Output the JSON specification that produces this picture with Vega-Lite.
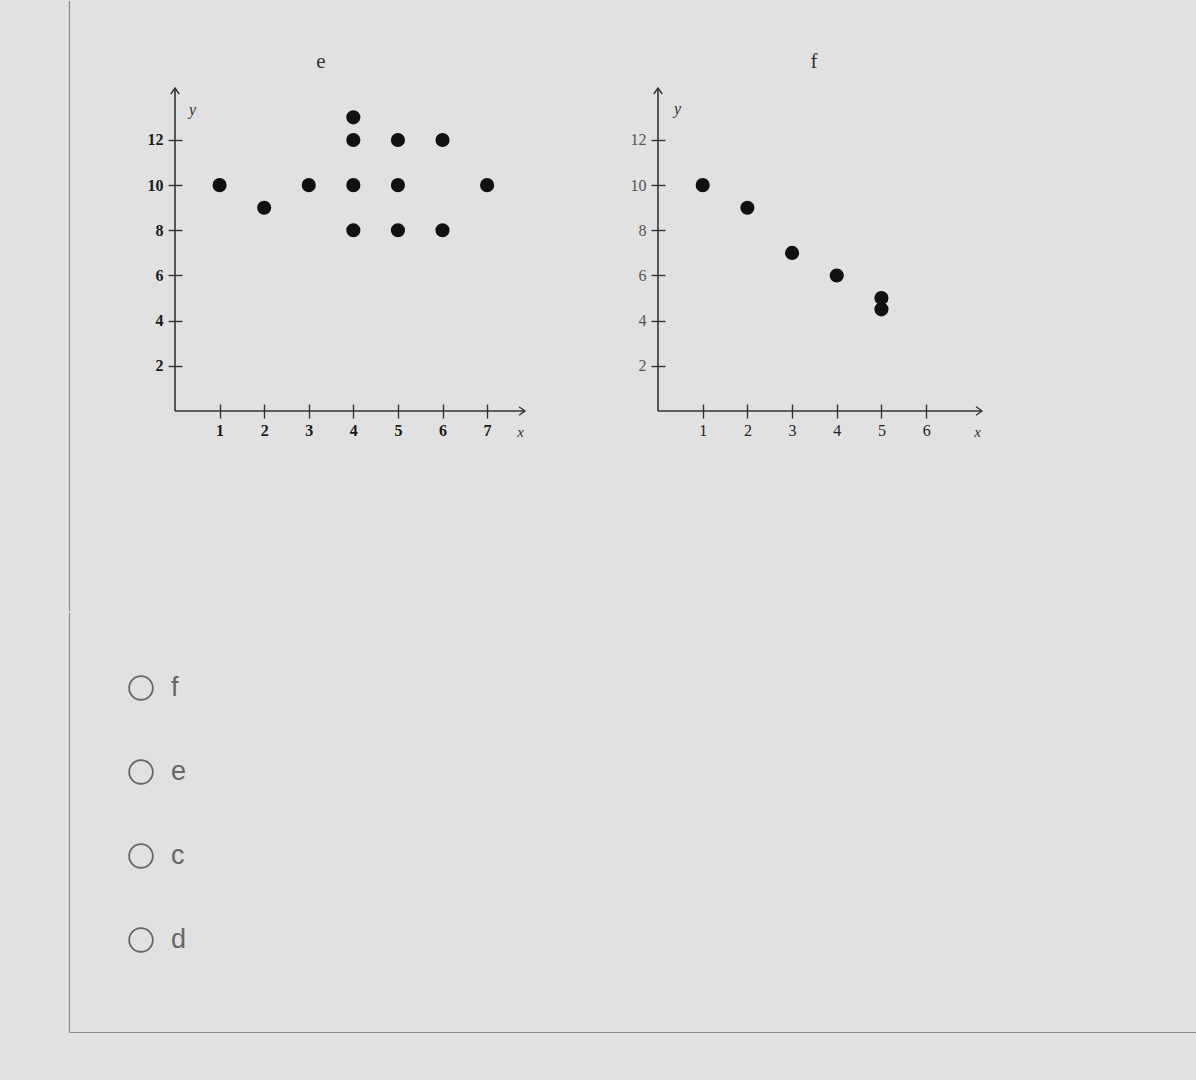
{
  "$schema": "https://vega.github.io/schema/vega-lite/v6.json",
  "background": "#e1e1e1",
  "padding": {"left": 68, "top": 0, "right": 0, "bottom": 50},
  "autosize": {"type": "pad"},
  "spacing": 0,
  "datasets": {
    "e": [
      {"x": 1, "y": 10}, {"x": 2, "y": 9}, {"x": 3, "y": 10},
      {"x": 4, "y": 13}, {"x": 4, "y": 12}, {"x": 4, "y": 10}, {"x": 4, "y": 8},
      {"x": 5, "y": 12}, {"x": 5, "y": 10}, {"x": 5, "y": 8},
      {"x": 6, "y": 12}, {"x": 6, "y": 8}, {"x": 7, "y": 10}
    ],
    "f": [
      {"x": 1, "y": 10}, {"x": 2, "y": 9}, {"x": 3, "y": 7},
      {"x": 4, "y": 6}, {"x": 5, "y": 5}, {"x": 5, "y": 4.5}
    ],
    "options": [
      {"label": "f"}, {"label": "e"}, {"label": "c"}, {"label": "d"}
    ]
  },
  "vconcat": [
    {
      "spacing": 76,
      "hconcat": [
        {
          "width": 1,
          "height": 523,
          "data": {"values": [{}]},
          "mark": {"type": "rule", "color": "#8a8a8a", "strokeWidth": 1.2},
          "encoding": {
            "y": {"datum": 0, "type": "quantitative", "scale": {"domain": [0, 1], "nice": false, "zero": false}, "axis": null},
            "y2": {"datum": 1.1665}
          }
        },
        {
          "spacing": 102,
          "hconcat": [
            {
              "width": 350,
              "height": 323,
              "title": {"text": "e", "anchor": "middle", "dx": -29, "offset": 13, "frame": "group", "font": "Liberation Serif", "fontSize": 21, "fontWeight": "normal", "color": "#333", "baseline": "top"},
              "layer": [
                {
                  "data": {"name": "e"},
                  "mark": {"type": "point", "shape": "circle", "filled": true, "size": 200, "color": "#111", "opacity": 1},
                  "encoding": {
                    "x": {"field": "x", "type": "quantitative", "scale": {"domain": [0, 7.85], "nice": false, "zero": false},
                      "axis": {"values": [1, 2, 3, 4, 5, 6, 7], "format": "d", "domain": false, "grid": false, "ticks": true, "labels": true, "tickSize": 14, "tickColor": "#333", "tickWidth": 1.4, "offset": -7, "labelPadding": 4, "labelFont": "Liberation Serif", "labelFontSize": 16, "labelFontWeight": "bold", "labelColor": "#1a1a1a", "title": "x", "titleX": 345, "titleY": 27, "titleAngle": 0, "titleAlign": "center", "titleBaseline": "middle", "titleFont": "Liberation Serif", "titleFontStyle": "italic", "titleFontWeight": "normal", "titleFontSize": 15, "titleColor": "#333"}},
                    "y": {"field": "y", "type": "quantitative", "scale": {"domain": [0, 14.3], "nice": false, "zero": false},
                      "axis": {"values": [2, 4, 6, 8, 10, 12], "format": "d", "domain": false, "grid": false, "ticks": true, "labels": true, "tickSize": 14, "tickColor": "#333", "tickWidth": 1.4, "offset": -7, "labelPadding": 5, "labelFont": "Liberation Serif", "labelFontSize": 16, "labelFontWeight": "bold", "labelColor": "#1a1a1a", "title": "y", "titleX": 10, "titleY": 21, "titleAngle": 0, "titleAlign": "center", "titleBaseline": "middle", "titleFont": "Liberation Serif", "titleFontStyle": "italic", "titleFontWeight": "normal", "titleFontSize": 16, "titleColor": "#333"}}
                  }
                },
                {"data": {"values": [{}]}, "mark": {"type": "rule", "color": "#333", "strokeWidth": 1.6}, "encoding": {"x": {"datum": 0, "type": "quantitative"}}},
                {"data": {"values": [{}]}, "mark": {"type": "rule", "color": "#333", "strokeWidth": 1.6}, "encoding": {"y": {"datum": 0, "type": "quantitative"}}},
                {"data": {"values": [{}]}, "mark": {"type": "point", "shape": "M -0.7 1 L 0 0 L 0.7 1", "filled": false, "stroke": "#333", "strokeWidth": 1.4, "size": 144, "opacity": 1}, "encoding": {"x": {"datum": 0, "type": "quantitative"}, "y": {"datum": 14.3, "type": "quantitative"}}},
                {"data": {"values": [{}]}, "mark": {"type": "point", "shape": "M -1 -0.7 L 0 0 L -1 0.7", "filled": false, "stroke": "#333", "strokeWidth": 1.4, "size": 144, "opacity": 1}, "encoding": {"x": {"datum": 7.85, "type": "quantitative"}, "y": {"datum": 0, "type": "quantitative"}}}
              ]
            },
            {
              "width": 324,
              "height": 323,
              "title": {"text": "f", "anchor": "middle", "dx": -6, "offset": 13, "frame": "group", "font": "Liberation Serif", "fontSize": 21, "fontWeight": "normal", "color": "#333", "baseline": "top"},
              "layer": [
                {
                  "data": {"name": "f"},
                  "mark": {"type": "point", "shape": "circle", "filled": true, "size": 200, "color": "#111", "opacity": 1},
                  "encoding": {
                    "x": {"field": "x", "type": "quantitative", "scale": {"domain": [0, 7.25], "nice": false, "zero": false},
                      "axis": {"values": [1, 2, 3, 4, 5, 6], "format": "d", "domain": false, "grid": false, "ticks": true, "labels": true, "tickSize": 14, "tickColor": "#333", "tickWidth": 1.4, "offset": -7, "labelPadding": 4, "labelFont": "Liberation Serif", "labelFontSize": 16, "labelColor": "#222", "title": "x", "titleX": 319, "titleY": 27, "titleAngle": 0, "titleAlign": "center", "titleBaseline": "middle", "titleFont": "Liberation Serif", "titleFontStyle": "italic", "titleFontWeight": "normal", "titleFontSize": 15, "titleColor": "#333"}},
                    "y": {"field": "y", "type": "quantitative", "scale": {"domain": [0, 14.3], "nice": false, "zero": false},
                      "axis": {"values": [2, 4, 6, 8, 10, 12], "format": "d", "domain": false, "grid": false, "ticks": true, "labels": true, "tickSize": 14, "tickColor": "#333", "tickWidth": 1.4, "offset": -7, "labelPadding": 5, "labelFont": "Liberation Serif", "labelFontSize": 16, "labelColor": "#555", "title": "y", "titleX": 12, "titleY": 20, "titleAngle": 0, "titleAlign": "center", "titleBaseline": "middle", "titleFont": "Liberation Serif", "titleFontStyle": "italic", "titleFontWeight": "normal", "titleFontSize": 16, "titleColor": "#333"}}
                  }
                },
                {"data": {"values": [{}]}, "mark": {"type": "rule", "color": "#333", "strokeWidth": 1.6}, "encoding": {"x": {"datum": 0, "type": "quantitative"}}},
                {"data": {"values": [{}]}, "mark": {"type": "rule", "color": "#333", "strokeWidth": 1.6}, "encoding": {"y": {"datum": 0, "type": "quantitative"}}},
                {"data": {"values": [{}]}, "mark": {"type": "point", "shape": "M -0.7 1 L 0 0 L 0.7 1", "filled": false, "stroke": "#333", "strokeWidth": 1.4, "size": 144, "opacity": 1}, "encoding": {"x": {"datum": 0, "type": "quantitative"}, "y": {"datum": 14.3, "type": "quantitative"}}},
                {"data": {"values": [{}]}, "mark": {"type": "point", "shape": "M -1 -0.7 L 0 0 L -1 0.7", "filled": false, "stroke": "#333", "strokeWidth": 1.4, "size": 144, "opacity": 1}, "encoding": {"x": {"datum": 7.25, "type": "quantitative"}, "y": {"datum": 0, "type": "quantitative"}}}
              ]
            }
          ]
        }
      ]
    },
    {
      "width": 1128,
      "height": 420,
      "data": {"name": "options"},
      "layer": [
        {
          "mark": {"type": "point", "shape": "circle", "filled": false, "size": 560, "stroke": "#666", "strokeWidth": 1.8, "opacity": 1},
          "encoding": {
            "x": {"datum": 1, "type": "quantitative", "scale": {"domain": [0, 15.667], "nice": false, "zero": false},
              "axis": {"domain": true, "domainColor": "#8a8a8a", "domainWidth": 1.2, "labels": false, "ticks": false, "grid": false, "title": null}},
            "y": {"field": "label", "type": "nominal", "sort": null, "scale": {"padding": 1, "align": 0.452},
              "axis": {"domain": true, "domainColor": "#8a8a8a", "domainWidth": 1.2, "labels": false, "ticks": false, "grid": false, "title": null}}
          }
        },
        {
          "mark": {"type": "text", "align": "left", "baseline": "middle", "dx": 30, "font": "Liberation Sans", "fontSize": 27, "color": "#666"},
          "encoding": {
            "x": {"datum": 1, "type": "quantitative"},
            "y": {"field": "label", "type": "nominal", "sort": null},
            "text": {"field": "label"}
          }
        }
      ]
    }
  ],
  "config": {
    "view": {"stroke": null},
    "axis": {"grid": false}
  }
}
